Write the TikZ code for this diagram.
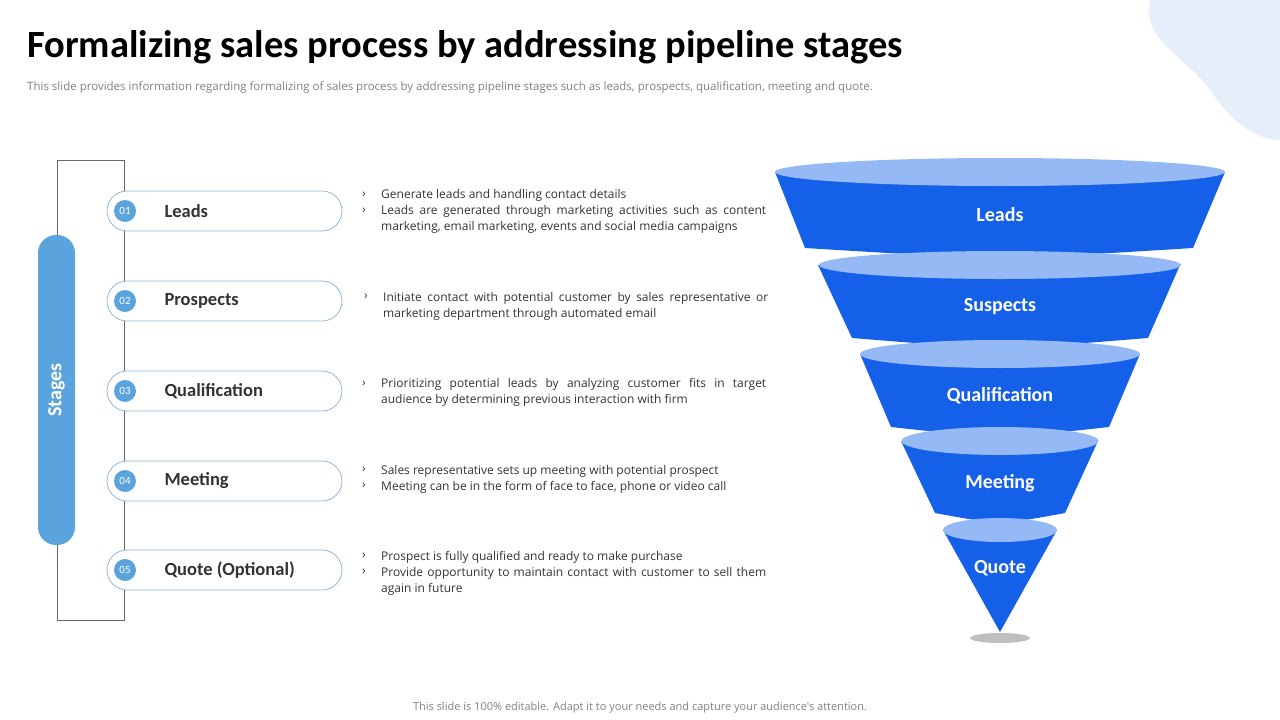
\documentclass[tikz,border=0pt]{standalone}
\usepackage{fontspec}
\setmainfont{Carlito}
\newfontfamily\bodyf{Open Sans}
\definecolor{fdark}{HTML}{1560E8}
\definecolor{flight}{HTML}{95B9F5}
\definecolor{pillb}{HTML}{8FB8DA}
\definecolor{cblue}{HTML}{5BA3DC}
\definecolor{txt}{HTML}{333333}
\definecolor{blob}{HTML}{E6EEFA}
\begin{document}
\hyphenpenalty=10000 \exhyphenpenalty=10000
\begin{tikzpicture}[x=1pt,y=-1pt,
  pill/.style={draw=pillb,line width=0.8pt,fill=white,rounded corners=20pt,minimum width=235pt,minimum height=40pt},
  num/.style={circle,fill=cblue,minimum size=22pt,inner sep=0pt,text=white,font=\fontsize{11}{11}\selectfont},
  lab/.style={anchor=west,text=txt,font=\fontsize{18.5}{18.5}\selectfont\bfseries},
  desc/.style={anchor=north west,text width=385pt,align=justify,text=txt,font=\bodyf\fontsize{12}{16}\selectfont,inner sep=0pt},
  chev/.style={text=txt,font=\bodyf\fontsize{12}{12}\selectfont},
  fl/.style={text=white,font=\fontsize{20}{20}\selectfont\bfseries}]
\useasboundingbox (0,0) rectangle (1280,720);
\fill[blob] (1150,0) .. controls (1140,40) and (1190,60) .. (1210,90) .. controls (1230,120) and (1255,140) .. (1280,140) -- (1280,0) -- cycle;
% title
\node[anchor=west,text=black,font=\fontsize{38.5}{38.5}\selectfont\bfseries,inner sep=0pt] (title) at (27,47) {Formalizing sales process by addressing pipeline stages};
\node[anchor=west,text=gray,font=\bodyf\fontsize{11.5}{12}\selectfont,inner sep=0pt] (sub) at (27,87) {This slide provides information regarding formalizing of sales process by addressing pipeline stages such as leads, prospects, qualification, meeting and quote.};
\node[text=gray,font=\bodyf\fontsize{11}{12}\selectfont] (foot) at (640,708) {This slide is 100\% editable. Adapt it to your needs and capture your audience's attention.};
% bracket
\draw[gray!80!black,line width=0.8pt] (124,160) -- (57,160) -- (57,620) -- (124,620) -- cycle;
\fill[cblue,rounded corners=18pt] (38,235) rectangle (75,545);
\node[rotate=90,text=white,font=\fontsize{20}{20}\selectfont\bfseries] (stages) at (56.5,390) {Stages};
% pills
\foreach \y/\n/\t/\id in {211/01/Leads/a,301/02/Prospects/b,391/03/Qualification/c,481/04/Meeting/d,570/05/Quote (Optional)/e}{
  \node[pill] (p\id) at (224.5,\y) {};
  \node[num] (n\id) at (125,\y) {\n};
  \node[lab] (l\id) at (161,\y) {\t};
}
% descriptions
\node[desc] (da) at (381,189) {Generate leads and handling contact details\\Leads are generated through marketing activities such as content marketing, email marketing, events and social media campaigns};
\node[desc] (db) at (383,292) {Initiate contact with potential customer by sales representative or marketing department through automated email};
\node[desc] (dc) at (381,378) {Prioritizing potential leads by analyzing customer fits in target audience by determining previous interaction with firm};
\node[desc] (dd) at (381,465) {Sales representative sets up meeting with potential prospect\\Meeting can be in the form of face to face, phone or video call};
\node[desc] (de) at (381,551) {Prospect is fully qualified and ready to make purchase\\Provide opportunity to maintain contact with customer to sell them again in future};
\foreach \x/\y in {364/195,364/211,366/297,364/384,364/470,364/486,364/556,364/572}{\node[chev] at (\x,\y) {›};}
% funnel
\fill[lightgray] (1000,638) ellipse (30 and 5);
\foreach \yt/\xl/\xr/\yb/\bl/\br in {172/775/1225/248/805/1193, 265/818/1180/338/852/1148, 354/860/1140/427/891/1109, 441/901/1098/513/935/1065}{
  \fill[fdark] (\xl,\yt) -- (\bl,\yb) .. controls (1000,\yb+12) .. (\br,\yb) -- (\xr,\yt) -- cycle;
  \fill[flight] (1000,\yt) ellipse ({(\xr-\xl)/2} and 14);
}
\fill[fdark] (943,530) -- (1000,632) -- (1057,530) -- cycle;
\fill[flight] (1000,530) ellipse (57 and 12);
\node[fl] (f1) at (1000,215) {Leads};
\node[fl] (f2) at (1000,307) {Suspects};
\node[fl] (f3) at (1000,396) {Qualification};
\node[fl] (f4) at (1000,483) {Meeting};
\node[fl] (f5) at (1000,568) {Quote};
\end{tikzpicture}
\end{document}
